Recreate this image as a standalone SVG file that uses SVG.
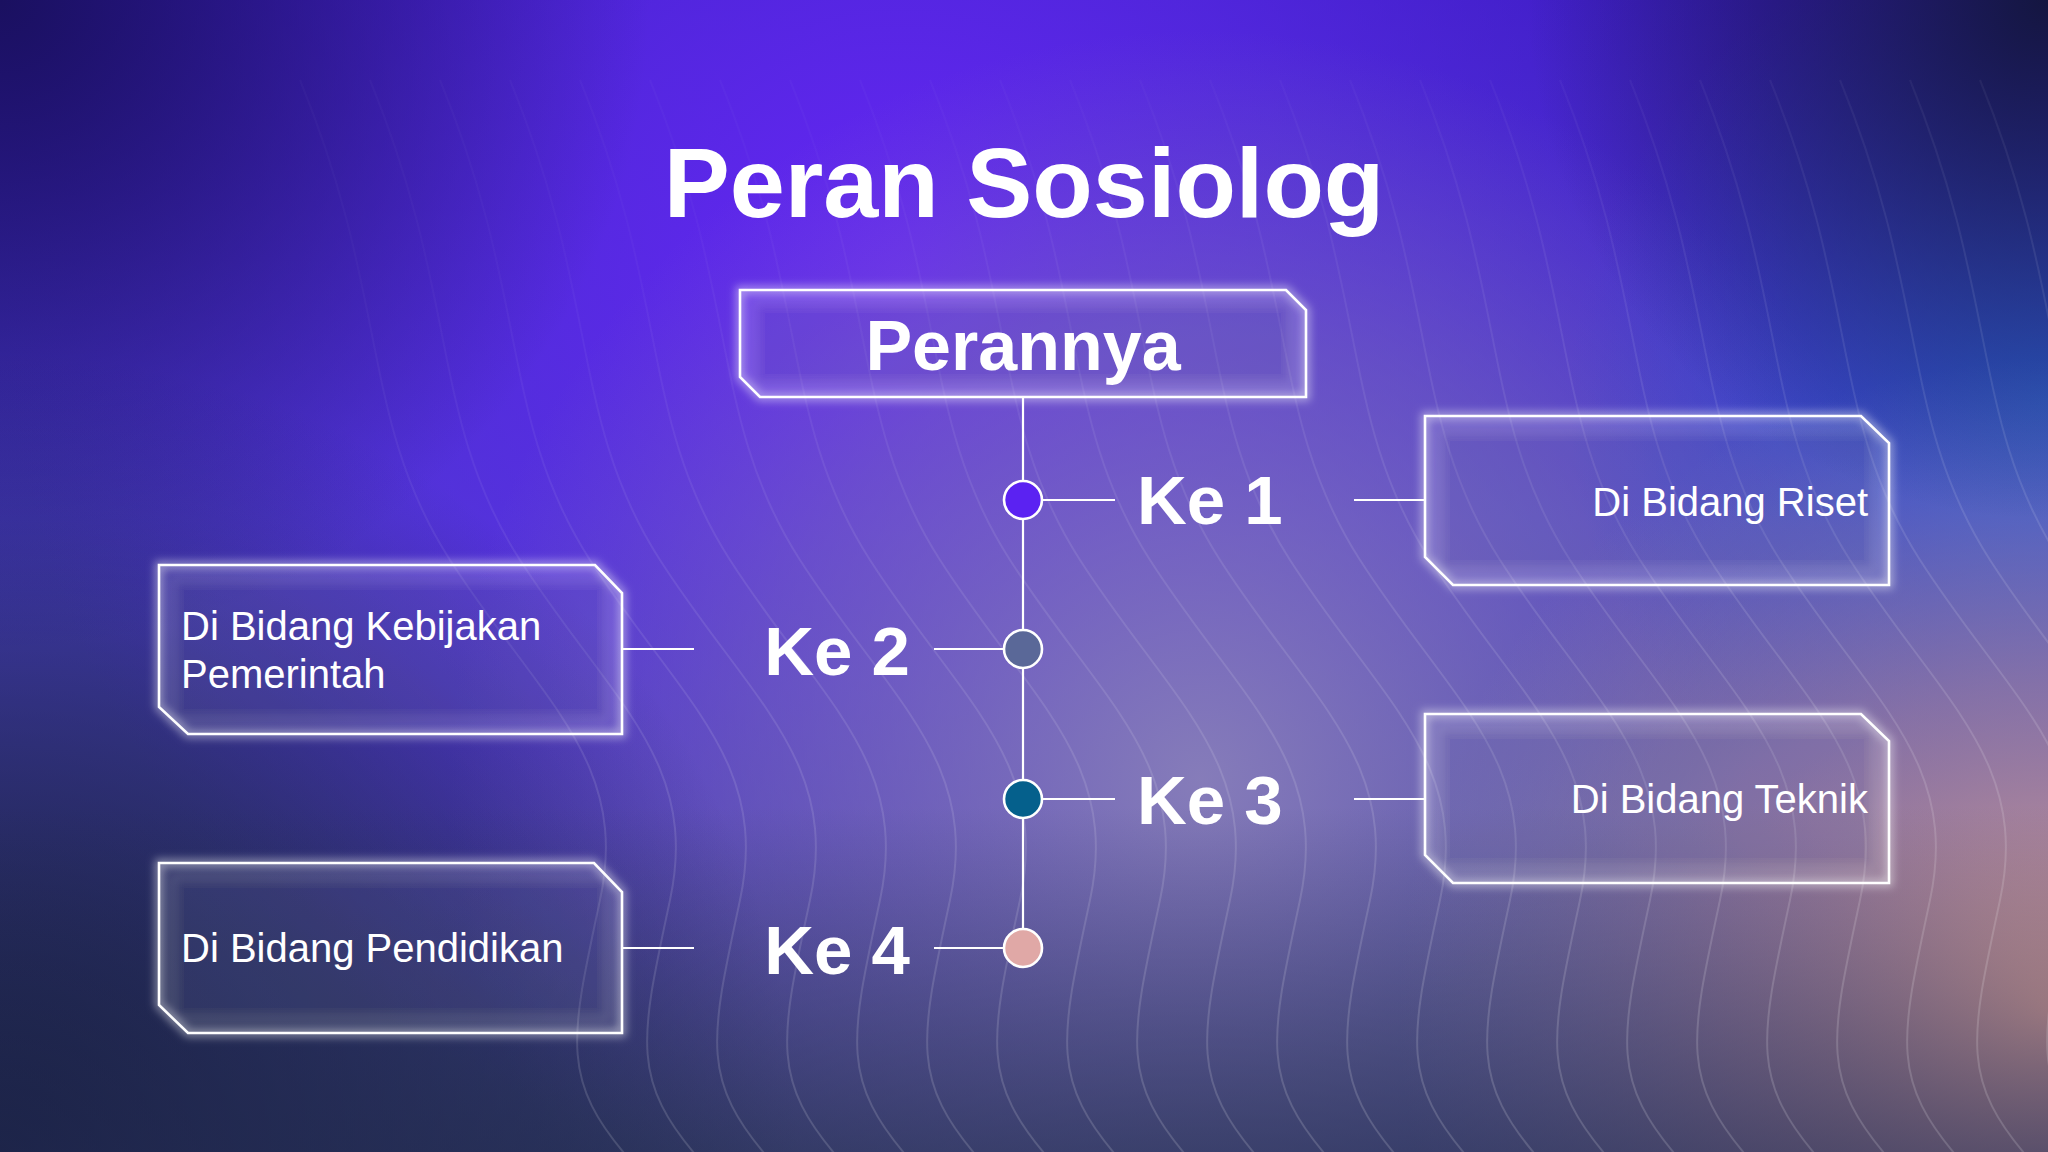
<svg xmlns="http://www.w3.org/2000/svg" xmlns:xlink="http://www.w3.org/1999/xlink" width="2048" height="1152" viewBox="0 0 2048 1152">
  <defs>
    <style>
      .box { fill: rgba(255,255,255,0.09); stroke: #ffffff; stroke-width: 2.6; }
      .glowline { fill: none; stroke: rgba(255,255,255,0.45); stroke-width: 8; }
      .inner { fill: rgba(30,25,110,0.10); stroke: rgba(255,255,255,0.10); stroke-width: 6; }
      .conn { stroke: #ffffff; stroke-width: 2.2; fill: none; }
      .dot { stroke: #ffffff; stroke-width: 2.6; }
      .title { font-family: "Liberation Sans", Arial, sans-serif; font-weight: bold; fill: #ffffff; }
      .ke { font-family: "Liberation Sans", Arial, sans-serif; font-weight: bold; font-size: 69px; fill: #ffffff; }
      .lbl { font-family: "Liberation Sans", Arial, sans-serif; font-size: 40px; fill: #ffffff; }
      .wave { fill: none; stroke: #ffffff; stroke-width: 2; }
    </style>
    <linearGradient id="bgBase" x1="0" y1="0" x2="0" y2="1">
      <stop offset="0" stop-color="#3a1cc0"/>
      <stop offset="0.45" stop-color="#4a3ec8"/>
      <stop offset="1" stop-color="#3c4676"/>
    </linearGradient>
    <radialGradient id="violet" cx="900" cy="280" r="900" gradientUnits="userSpaceOnUse">
      <stop offset="0" stop-color="#6624f6" stop-opacity="1"/>
      <stop offset="0.45" stop-color="#5a2ae8" stop-opacity="0.7"/>
      <stop offset="1" stop-color="#5a2ae8" stop-opacity="0"/>
    </radialGradient>
    <radialGradient id="lav" cx="1200" cy="780" r="750" gradientUnits="userSpaceOnUse">
      <stop offset="0" stop-color="#8c84b8" stop-opacity="0.9"/>
      <stop offset="0.6" stop-color="#7c76b0" stop-opacity="0.45"/>
      <stop offset="1" stop-color="#7c76b0" stop-opacity="0"/>
    </radialGradient>
    <radialGradient id="pink" cx="2048" cy="1010" r="650" gradientUnits="userSpaceOnUse">
      <stop offset="0" stop-color="#d8a098" stop-opacity="1"/>
      <stop offset="0.5" stop-color="#b48c9c" stop-opacity="0.6"/>
      <stop offset="1" stop-color="#a08aa8" stop-opacity="0"/>
    </radialGradient>
    <radialGradient id="blue" cx="2048" cy="400" r="480" gradientUnits="userSpaceOnUse">
      <stop offset="0" stop-color="#2a62d0" stop-opacity="0.9"/>
      <stop offset="1" stop-color="#2a52c8" stop-opacity="0"/>
    </radialGradient>
    <radialGradient id="darkTR" cx="2048" cy="0" r="520" gradientUnits="userSpaceOnUse">
      <stop offset="0" stop-color="#141640" stop-opacity="1"/>
      <stop offset="1" stop-color="#141640" stop-opacity="0"/>
    </radialGradient>
    <radialGradient id="darkTL" cx="0" cy="0" r="650" gradientUnits="userSpaceOnUse">
      <stop offset="0" stop-color="#1a1060" stop-opacity="1"/>
      <stop offset="1" stop-color="#1a1060" stop-opacity="0"/>
    </radialGradient>
    <radialGradient id="darkBL" cx="0" cy="1152" r="800" gradientUnits="userSpaceOnUse">
      <stop offset="0" stop-color="#161c40" stop-opacity="1"/>
      <stop offset="1" stop-color="#161c40" stop-opacity="0"/>
    </radialGradient>
    <linearGradient id="darkBottom" x1="0" y1="0" x2="0" y2="1">
      <stop offset="0.7" stop-color="#222a50" stop-opacity="0"/>
      <stop offset="1" stop-color="#222a50" stop-opacity="0.6"/>
    </linearGradient>
    <linearGradient id="waveFade" x1="0.2" y1="0" x2="0.6" y2="1">
      <stop offset="0.2" stop-color="#fff" stop-opacity="0.15"/>
      <stop offset="0.55" stop-color="#fff" stop-opacity="0.6"/>
      <stop offset="1" stop-color="#fff" stop-opacity="1"/>
    </linearGradient>
    <mask id="waveMask">
      <rect width="2048" height="1152" fill="url(#waveFade)"/>
    </mask>
    <path id="w" d="M 0 80 C 90 300, 60 420, 150 560 S 330 760, 300 900 S 260 1080, 330 1160"/>
    <filter id="soft" x="-10%" y="-20%" width="120%" height="140%">
      <feGaussianBlur stdDeviation="4"/>
    </filter>
  </defs>

  <!-- background -->
  <rect width="2048" height="1152" fill="url(#bgBase)"/>
  <rect width="2048" height="1152" fill="url(#violet)"/>
  <rect width="2048" height="1152" fill="url(#lav)"/>
  <rect width="2048" height="1152" fill="url(#blue)"/>
  <rect width="2048" height="1152" fill="url(#pink)"/>
  <rect width="2048" height="1152" fill="url(#darkTL)"/>
  <rect width="2048" height="1152" fill="url(#darkTR)"/>
  <rect width="2048" height="1152" fill="url(#darkBL)"/>
  <rect width="2048" height="1152" fill="url(#darkBottom)"/>
  <g mask="url(#waveMask)" stroke-opacity="0.16" class="wave">
    <use xlink:href="#w" x="300"/><use xlink:href="#w" x="370"/><use xlink:href="#w" x="440"/>
    <use xlink:href="#w" x="510"/><use xlink:href="#w" x="580"/><use xlink:href="#w" x="650"/>
    <use xlink:href="#w" x="720"/><use xlink:href="#w" x="790"/><use xlink:href="#w" x="860"/>
    <use xlink:href="#w" x="930"/><use xlink:href="#w" x="1000"/><use xlink:href="#w" x="1070"/>
    <use xlink:href="#w" x="1140"/><use xlink:href="#w" x="1210"/><use xlink:href="#w" x="1280"/>
    <use xlink:href="#w" x="1350"/><use xlink:href="#w" x="1420"/><use xlink:href="#w" x="1490"/>
    <use xlink:href="#w" x="1560"/><use xlink:href="#w" x="1630"/><use xlink:href="#w" x="1700"/>
    <use xlink:href="#w" x="1770"/><use xlink:href="#w" x="1840"/><use xlink:href="#w" x="1910"/>
    <use xlink:href="#w" x="1980"/>
  </g>

  <!-- title -->
  <text class="title" x="1024" y="217" font-size="99" text-anchor="middle">Peran Sosiolog</text>

  <!-- connectors -->
  <g id="connectors" class="conn">
    <line x1="1023" y1="398" x2="1023" y2="929"/>
    <line x1="1042" y1="500" x2="1115" y2="500"/>
    <line x1="1354" y1="500" x2="1425" y2="500"/>
    <line x1="622" y1="649" x2="694" y2="649"/>
    <line x1="934" y1="649" x2="1004" y2="649"/>
    <line x1="1042" y1="799" x2="1115" y2="799"/>
    <line x1="1354" y1="799" x2="1425" y2="799"/>
    <line x1="622" y1="948" x2="694" y2="948"/>
    <line x1="934" y1="948" x2="1004" y2="948"/>
  </g>

  <!-- root node -->
  <g id="node-perannya">
    <path class="glowline" filter="url(#soft)" d="M740 290 H1286 L1306 310 V397 H760 L740 377 Z"/>
    <path class="box" d="M740 290 H1286 L1306 310 V397 H760 L740 377 Z"/>
    <rect class="inner" x="754" y="302" width="538" height="83" filter="url(#soft)"/>
    <text class="title" x="1023" y="370" font-size="70" text-anchor="middle">Perannya</text>
  </g>

  <!-- timeline dots -->
  <g id="dot-1"><circle class="dot" cx="1023" cy="500" r="19" fill="#5b22f2"/></g>
  <g id="dot-2"><circle class="dot" cx="1023" cy="649" r="19" fill="#5a6898"/></g>
  <g id="dot-3"><circle class="dot" cx="1023" cy="799" r="19" fill="#05608c"/></g>
  <g id="dot-4"><circle class="dot" cx="1023" cy="948" r="19" fill="#e0a8a6"/></g>

  <!-- Ke labels -->
  <g id="label-ke1"><text class="ke" x="1137" y="524">Ke 1</text></g>
  <g id="label-ke2"><text class="ke" x="910" y="675" text-anchor="end">Ke 2</text></g>
  <g id="label-ke3"><text class="ke" x="1137" y="824">Ke 3</text></g>
  <g id="label-ke4"><text class="ke" x="910" y="974" text-anchor="end">Ke 4</text></g>

  <!-- right boxes -->
  <g id="node-riset">
    <path class="glowline" filter="url(#soft)" d="M1425 416 H1861 L1889 443 V585 H1453 L1425 557 Z"/>
    <path class="box" d="M1425 416 H1861 L1889 443 V585 H1453 L1425 557 Z"/>
    <rect class="inner" x="1439" y="430" width="436" height="141" filter="url(#soft)"/>
    <text class="lbl" x="1868" y="516" text-anchor="end">Di Bidang Riset</text>
  </g>
  <g id="node-teknik">
    <path class="glowline" filter="url(#soft)" d="M1425 714 H1861 L1889 741 V883 H1453 L1425 855 Z"/>
    <path class="box" d="M1425 714 H1861 L1889 741 V883 H1453 L1425 855 Z"/>
    <rect class="inner" x="1439" y="728" width="436" height="141" filter="url(#soft)"/>
    <text class="lbl" x="1868" y="813" text-anchor="end">Di Bidang Teknik</text>
  </g>

  <!-- left boxes -->
  <g id="node-kebijakan">
    <path class="glowline" filter="url(#soft)" d="M159 565 H595 L622 593 V734 H188 L159 707 Z"/>
    <path class="box" d="M159 565 H595 L622 593 V734 H188 L159 707 Z"/>
    <rect class="inner" x="173" y="579" width="435" height="141" filter="url(#soft)"/>
    <text class="lbl" x="181" y="640">Di Bidang Kebijakan</text>
    <text class="lbl" x="181" y="688">Pemerintah</text>
  </g>
  <g id="node-pendidikan">
    <path class="glowline" filter="url(#soft)" d="M159 863 H594 L622 892 V1033 H188 L159 1005 Z"/>
    <path class="box" d="M159 863 H594 L622 892 V1033 H188 L159 1005 Z"/>
    <rect class="inner" x="173" y="877" width="435" height="142" filter="url(#soft)"/>
    <text class="lbl" x="181" y="962">Di Bidang Pendidikan</text>
  </g>
</svg>
